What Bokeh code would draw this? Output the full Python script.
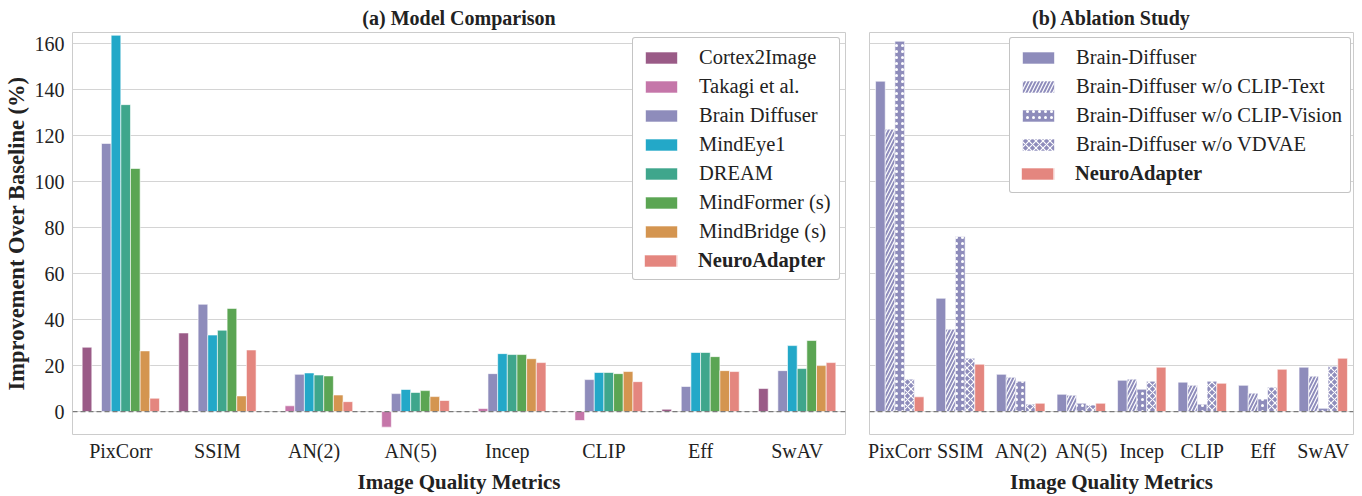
import math
from bokeh.plotting import figure
from bokeh.models import ColumnDataSource, FactorRange, Range1d, Legend, LegendItem, Span
from bokeh.transform import dodge
from bokeh.layouts import row
from bokeh.embed import file_html
from bokeh.resources import INLINE

nan = float("nan")

# ---------------- data ----------------
metrics = ["PixCorr", "SSIM", "AN(2)", "AN(5)", "Incep", "CLIP", "Eff", "SwAV"]

models = ["Cortex2Image", "Takagi et al.", "Brain Diffuser", "MindEye1",
          "DREAM", "MindFormer (s)", "MindBridge (s)", "NeuroAdapter"]
cortex2image = [28.0, 34.2, nan, nan, nan, nan, 1.0, 10.0]
takagi = [nan, nan, 2.5, -6.8, 1.3, -3.9, nan, nan]
brain_diffuser = [116.7, 46.7, 16.2, 7.8, 16.5, 13.9, 10.9, 17.8]
mindeye1 = [163.8, 33.3, 16.8, 9.6, 25.2, 17.0, 25.7, 28.7]
dream = [133.6, 35.4, 15.9, 8.3, 24.8, 17.0, 25.7, 18.7]
mindformer = [105.8, 44.9, 15.5, 9.1, 24.8, 16.5, 23.9, 30.9]
mindbridge = [26.4, 6.8, 7.2, 6.5, 23.0, 17.4, 17.8, 20.0]
neuroadapter = [5.8, 26.8, 4.3, 4.8, 21.3, 13.0, 17.4, 21.3]

ablations = ["Brain-Diffuser", "Brain-Diffuser w/o CLIP-Text",
             "Brain-Diffuser w/o CLIP-Vision", "Brain-Diffuser w/o VDVAE", "NeuroAdapter"]
abl_full = [143.8, 49.3, 16.2, 7.5, 13.6, 12.8, 11.4, 19.3]
abl_no_text = [122.9, 35.8, 14.9, 7.1, 14.1, 11.4, 8.0, 15.4]
abl_no_vision = [161.2, 76.2, 13.2, 3.6, 9.7, 3.2, 5.4, 1.4]
abl_no_vdvae = [14.1, 23.2, 3.2, 2.8, 13.2, 13.2, 10.6, 19.7]
abl_neuro = [6.4, 20.6, 3.6, 3.6, 19.3, 12.3, 18.4, 23.2]

y_ticks = [0, 20, 40, 60, 80, 100, 120, 140, 160]

# ---------------- styling ----------------
FONT = "Liberation Serif"
model_colors = ["#9a5b87", "#c576a9", "#8e8cbb", "#23a8c8",
                "#3fa68c", "#5ba553", "#d49550", "#e4867f"]
neuro_color = "#e4867f"
bd_color = "#8e8cbb"
GRID = "#d4d4d4"

yr = Range1d(-10, 165)


def style(p, show_yaxis=True):
    p.outline_line_color = "#cccccc"
    p.outline_line_width = 1
    p.xgrid.grid_line_color = None
    p.ygrid.grid_line_color = GRID
    p.ygrid.grid_line_width = 1
    p.yaxis.ticker = y_ticks
    for ax in (p.xaxis, p.yaxis):
        ax.axis_line_color = None
        ax.major_tick_line_color = None
        ax.minor_tick_line_color = None
        ax.major_tick_out = 0
        ax.major_tick_in = 0
        ax.minor_tick_out = 0
        ax.minor_tick_in = 0
        ax.major_label_text_font = FONT
        ax.major_label_text_font_size = "20px"
        ax.major_label_text_color = "#222222"
        ax.axis_label_text_font = FONT
        ax.axis_label_text_font_size = "21px"
        ax.axis_label_text_font_style = "bold"
        ax.axis_label_text_color = "#222222"
    p.yaxis.axis_label_text_font_size = "22.5px"
    p.xaxis.major_label_standoff = 5
    p.xaxis.axis_label_standoff = 5
    p.yaxis.major_label_standoff = 8
    p.yaxis.axis_label_standoff = 3
    p.xaxis.axis_label = "Image Quality Metrics"
    if not show_yaxis:
        p.yaxis.visible = False
    p.title.text_font = FONT
    p.title.text_font_size = "20px"
    p.title.text_font_style = "bold"
    p.title.text_color = "#222222"
    p.title.align = "center"
    p.title.offset = 0
    p.title.standoff = 8
    p.add_layout(Span(location=0, dimension="width", line_color="#7a7a7a",
                      line_width=1.2, line_dash="5 3"))


def make_legends(p, renderers, labels, loc):
    common = dict(location=loc, label_text_font=FONT, label_text_font_size="20.5px",
                  label_text_color="#222222", glyph_width=40, glyph_height=15,
                  label_height=22, label_standoff=18, spacing=6, padding=8, margin=0)
    items = [LegendItem(label=lab, renderers=[r]) for lab, r in zip(labels[:-1], renderers[:-1])]
    items.append(LegendItem(label=" ", renderers=[renderers[-1]]))
    leg_a = Legend(items=items, border_line_color="#8a8a8a", border_line_width=1,
                   background_fill_color="white", background_fill_alpha=1.0,
                   border_radius=3, **common)
    leg_b = Legend(items=[LegendItem(label=labels[-1], renderers=[renderers[-1]])],
                   border_line_alpha=0, background_fill_alpha=0,
                   label_text_font_style="bold", **common)
    p.add_layout(leg_a)
    p.add_layout(leg_b)


# ---------------- panel (a) ----------------
src_a = ColumnDataSource(dict(metric=metrics, c0=cortex2image, c1=takagi, c2=brain_diffuser,
                              c3=mindeye1, c4=dream, c5=mindformer, c6=mindbridge,
                              c7=neuroadapter))
p1 = figure(x_range=FactorRange(*metrics), y_range=yr, frame_width=773, frame_height=402,
            output_backend="svg", toolbar_location=None, title="(a) Model Comparison",
            min_border_left=0, min_border_right=6, min_border_top=26, min_border_bottom=0)
style(p1)
p1.yaxis.axis_label = "Improvement Over Baseline (%)"
rend_a = []
for i, col in enumerate(["c0", "c1", "c2", "c3", "c4", "c5", "c6", "c7"]):
    off = -0.35 + 0.1 * i
    r = p1.vbar(x=dodge("metric", off, range=p1.x_range), top=col, bottom=0, width=0.1,
                source=src_a, fill_color=model_colors[i], line_color="white", line_width=0.6)
    rend_a.append(r)
make_legends(p1, rend_a, models, (560, 154))

# ---------------- panel (b) ----------------
src_b = ColumnDataSource(dict(metric=metrics, a0=abl_full, a1=abl_no_text, a2=abl_no_vision,
                              a3=abl_no_vdvae, a4=abl_neuro))
p2 = figure(x_range=FactorRange(*metrics), y_range=yr, frame_width=484, frame_height=402,
            output_backend="svg", toolbar_location=None, title="(b) Ablation Study",
            min_border_left=18, min_border_right=1, min_border_top=26, min_border_bottom=0)
style(p2, show_yaxis=False)
hatches = [" ", "/", ".", "x", " "]
hscale = [12, 7, 6, 7, 12]
fills = [bd_color, bd_color, bd_color, bd_color, neuro_color]
rend_b = []
for i, col in enumerate(["a0", "a1", "a2", "a3", "a4"]):
    off = -0.32 + 0.16 * i
    r = p2.vbar(x=dodge("metric", off, range=p2.x_range), top=col, bottom=0, width=0.16,
                source=src_b, fill_color=fills[i], line_color="white", line_width=0.6,
                hatch_pattern=hatches[i], hatch_color="white", hatch_weight=1.2,
                hatch_scale=hscale[i])
    rend_b.append(r)
make_legends(p2, rend_b, ablations, (140, 241))

layout = row(p1, p2)
open("out.html", "w").write(file_html(layout, INLINE))
